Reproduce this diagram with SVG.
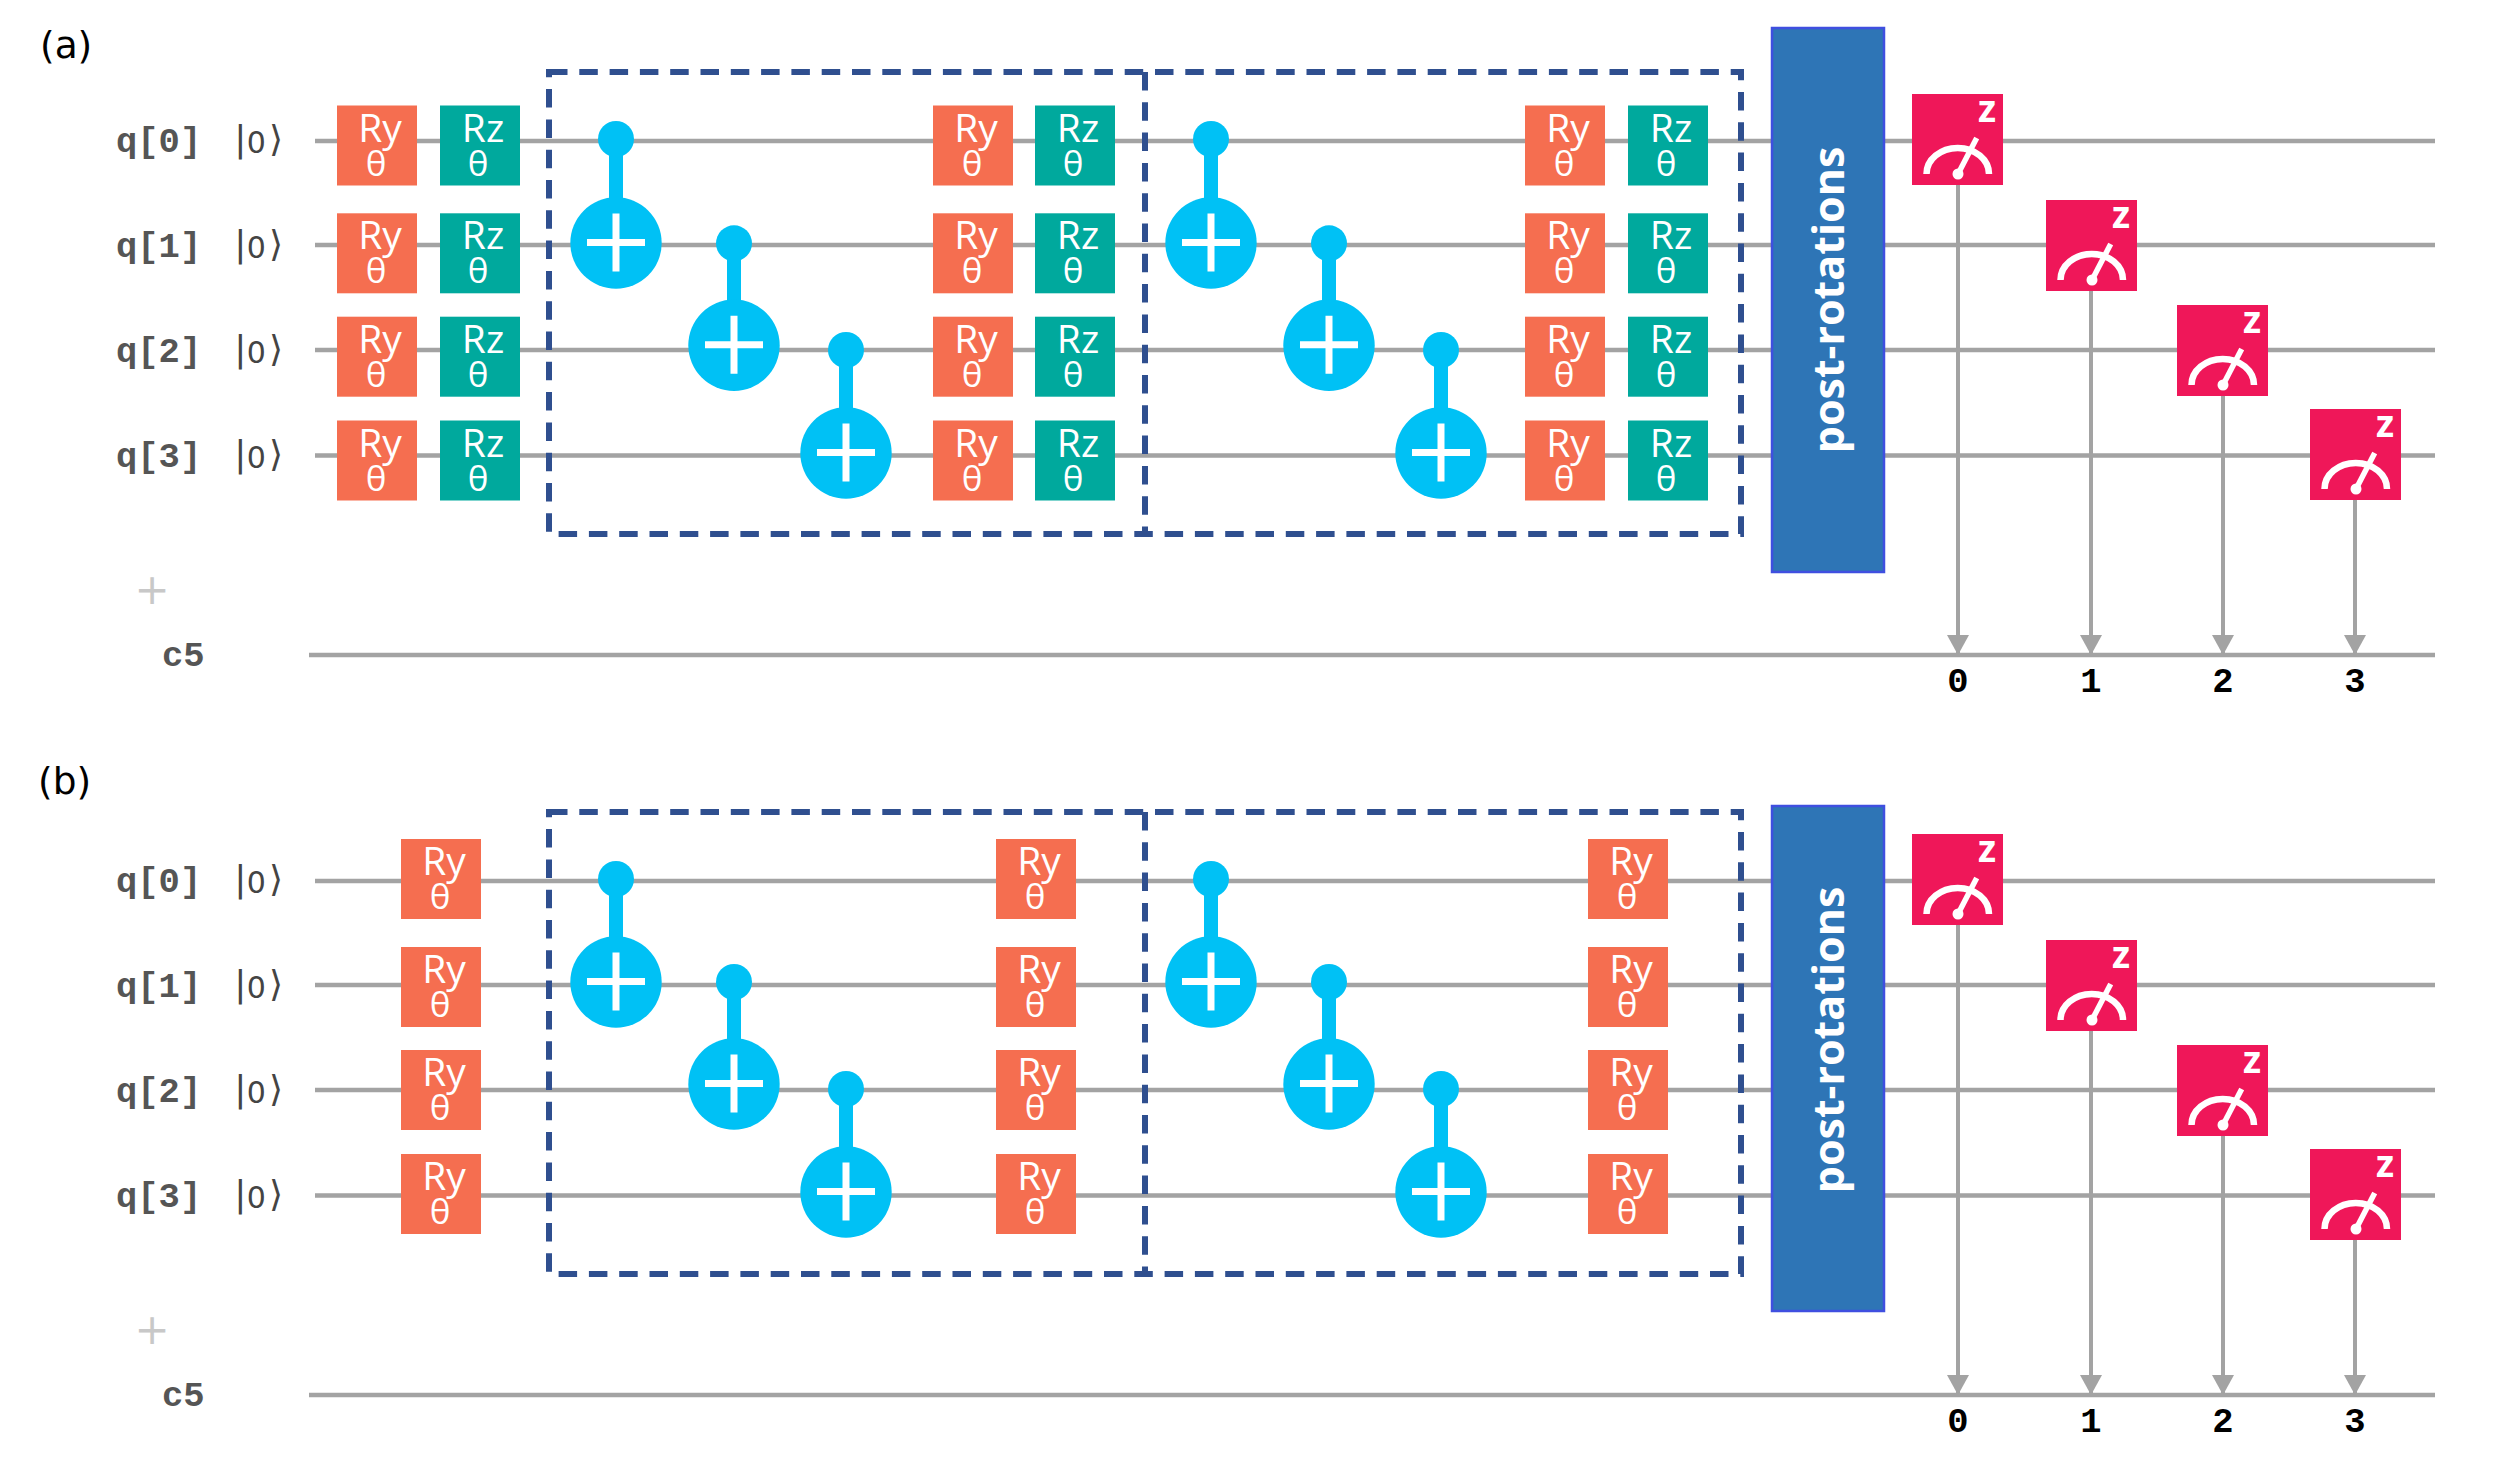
<svg xmlns="http://www.w3.org/2000/svg" width="2506" height="1466" viewBox="0 0 2506 1466">
<style>
.w{stroke:#a3a3a3;stroke-width:4.5;fill:none}
.m{stroke:#a3a3a3;stroke-width:4;fill:none;marker-end:url(#ah)}
.d{fill:none;stroke:#2f4f8f;stroke-width:6;stroke-dasharray:18.5 11.8}
.ry{fill:#f56e50}.rz{fill:#00a99d}.me{fill:#ef1759}
.gt{font-family:"Open Sans",sans-serif;font-weight:500;font-size:39px;fill:#fff;text-anchor:middle}
.th{font-family:"Open Sans",sans-serif;font-weight:500;font-size:35px;fill:#fff;text-anchor:middle}
.c{fill:#00c1f5}.cs{stroke:#00c1f5;stroke-width:14;fill:none}
.p{stroke:#fff;stroke-width:7;fill:none}
.ic{stroke:#fff;stroke-width:6.5;fill:none}.nd{stroke:#fff;stroke-width:5.5;fill:none}
.z{font-family:"Open Sans",sans-serif;font-weight:700;font-size:37px;fill:#fff;text-anchor:middle}
.q{font-family:"Liberation Mono",monospace;font-weight:700;font-size:35.5px;fill:#555}
.k{font-family:"DejaVu Sans",sans-serif;font-size:30px;fill:#444}
.ks{font-size:36px}
.n{font-family:"Liberation Mono",monospace;font-weight:700;font-size:35.5px;fill:#000;text-anchor:middle}
.pl{font-family:"DejaVu Sans",sans-serif;font-size:42px;fill:#c8c8c8;text-anchor:middle}
.t{font-family:"DejaVu Sans",sans-serif;font-size:37.5px;fill:#000}
.pr{fill:#2e75b6;stroke:#3f4fe0;stroke-width:2.5}
.prt{font-family:"Open Sans",sans-serif;font-weight:700;font-size:43px;fill:#fff;text-anchor:middle}
</style>
<defs>
<marker id="ah" markerUnits="userSpaceOnUse" markerWidth="20" markerHeight="22" refX="20" refY="11" orient="auto"><path d="M0 0L20 11L0 22Z" fill="#a3a3a3"/></marker>
<g id="ic"><path class="ic" d="M14.5 80A31.25 26 0 0 1 77 80"/><path class="nd" d="M46 80L64.7 44"/><circle cx="46" cy="80" r="5.5" fill="#fff"/></g>
<g id="pl"><path class="p" d="M-29 0H29M0 -29V29"/></g>
</defs>
<rect width="2506" height="1466" fill="#fff"/>
<g id="connectors">
<path class="w" d="M315 141H2435M315 245H2435M315 350H2435M315 455.5H2435M309 655H2435"/>
<path class="m" d="M1958 185V655"/><path class="m" d="M2091 291V655"/><path class="m" d="M2223 396V655"/><path class="m" d="M2355 500V655"/>
<path class="w" d="M315 881H2435M315 985H2435M315 1090H2435M315 1195.5H2435M309 1395H2435"/>
<path class="m" d="M1958 925V1395"/><path class="m" d="M2091 1031V1395"/><path class="m" d="M2223 1136V1395"/><path class="m" d="M2355 1240V1395"/>
</g>
<g id="frames">
<rect class="d" x="549" y="72" width="1192" height="462"/><path class="d" d="M1145 72V534"/>
<rect class="d" x="549" y="812" width="1192" height="462"/><path class="d" d="M1145 812V1274"/>
</g>
<g id="labels-a">
<text class="t" x="40" y="58">(a)</text>
<text class="q" x="116" y="152">q[0]</text><text class="q" x="116" y="257">q[1]</text><text class="q" x="116" y="362">q[2]</text><text class="q" x="116" y="467">q[3]</text>
<text class="k" y="153"><tspan class="ks" x="234.3" y="151">|</tspan><tspan x="246.8" y="153">0</tspan><tspan class="ks" x="269" y="151">⟩</tspan></text>
<text class="k" y="258"><tspan class="ks" x="234.3" y="256">|</tspan><tspan x="246.8" y="258">0</tspan><tspan class="ks" x="269" y="256">⟩</tspan></text>
<text class="k" y="363"><tspan class="ks" x="234.3" y="361">|</tspan><tspan x="246.8" y="363">0</tspan><tspan class="ks" x="269" y="361">⟩</tspan></text>
<text class="k" y="468"><tspan class="ks" x="234.3" y="466">|</tspan><tspan x="246.8" y="468">0</tspan><tspan class="ks" x="269" y="466">⟩</tspan></text>
<text class="pl" x="152" y="604">+</text>
<text class="q" x="162" y="666">c5</text>
<text class="n" x="1958" y="692">0</text><text class="n" x="2091" y="692">1</text><text class="n" x="2223" y="692">2</text><text class="n" x="2355" y="692">3</text>
</g>
<g id="labels-b">
<text class="t" x="38" y="794">(b)</text>
<text class="q" x="116" y="892">q[0]</text><text class="q" x="116" y="997">q[1]</text><text class="q" x="116" y="1102">q[2]</text><text class="q" x="116" y="1207">q[3]</text>
<text class="k" y="893"><tspan class="ks" x="234.3" y="891">|</tspan><tspan x="246.8" y="893">0</tspan><tspan class="ks" x="269" y="891">⟩</tspan></text>
<text class="k" y="998"><tspan class="ks" x="234.3" y="996">|</tspan><tspan x="246.8" y="998">0</tspan><tspan class="ks" x="269" y="996">⟩</tspan></text>
<text class="k" y="1103"><tspan class="ks" x="234.3" y="1101">|</tspan><tspan x="246.8" y="1103">0</tspan><tspan class="ks" x="269" y="1101">⟩</tspan></text>
<text class="k" y="1208"><tspan class="ks" x="234.3" y="1206">|</tspan><tspan x="246.8" y="1208">0</tspan><tspan class="ks" x="269" y="1206">⟩</tspan></text>
<text class="pl" x="152" y="1344">+</text>
<text class="q" x="162" y="1406">c5</text>
<text class="n" x="1958" y="1432">0</text><text class="n" x="2091" y="1432">1</text><text class="n" x="2223" y="1432">2</text><text class="n" x="2355" y="1432">3</text>
</g>
<g id="a-ry-1-0" transform="translate(337 105.5)"><rect class="ry" width="80" height="80"/><text class="gt" x="43" y="36">Ry</text><text class="th" x="39" y="70">θ</text></g>
<g id="a-ry-1-1" transform="translate(337 213.3)"><rect class="ry" width="80" height="80"/><text class="gt" x="43" y="36">Ry</text><text class="th" x="39" y="70">θ</text></g>
<g id="a-ry-1-2" transform="translate(337 316.7)"><rect class="ry" width="80" height="80"/><text class="gt" x="43" y="36">Ry</text><text class="th" x="39" y="70">θ</text></g>
<g id="a-ry-1-3" transform="translate(337 420.5)"><rect class="ry" width="80" height="80"/><text class="gt" x="43" y="36">Ry</text><text class="th" x="39" y="70">θ</text></g>
<g id="a-rz-1-0" transform="translate(440 105.5)"><rect class="rz" width="80" height="80"/><text class="gt" x="43" y="36">Rz</text><text class="th" x="38" y="70">θ</text></g>
<g id="a-rz-1-1" transform="translate(440 213.3)"><rect class="rz" width="80" height="80"/><text class="gt" x="43" y="36">Rz</text><text class="th" x="38" y="70">θ</text></g>
<g id="a-rz-1-2" transform="translate(440 316.7)"><rect class="rz" width="80" height="80"/><text class="gt" x="43" y="36">Rz</text><text class="th" x="38" y="70">θ</text></g>
<g id="a-rz-1-3" transform="translate(440 420.5)"><rect class="rz" width="80" height="80"/><text class="gt" x="43" y="36">Rz</text><text class="th" x="38" y="70">θ</text></g>
<g id="a-ry-2-0" transform="translate(933 105.5)"><rect class="ry" width="80" height="80"/><text class="gt" x="43" y="36">Ry</text><text class="th" x="39" y="70">θ</text></g>
<g id="a-ry-2-1" transform="translate(933 213.3)"><rect class="ry" width="80" height="80"/><text class="gt" x="43" y="36">Ry</text><text class="th" x="39" y="70">θ</text></g>
<g id="a-ry-2-2" transform="translate(933 316.7)"><rect class="ry" width="80" height="80"/><text class="gt" x="43" y="36">Ry</text><text class="th" x="39" y="70">θ</text></g>
<g id="a-ry-2-3" transform="translate(933 420.5)"><rect class="ry" width="80" height="80"/><text class="gt" x="43" y="36">Ry</text><text class="th" x="39" y="70">θ</text></g>
<g id="a-rz-2-0" transform="translate(1035 105.5)"><rect class="rz" width="80" height="80"/><text class="gt" x="43" y="36">Rz</text><text class="th" x="38" y="70">θ</text></g>
<g id="a-rz-2-1" transform="translate(1035 213.3)"><rect class="rz" width="80" height="80"/><text class="gt" x="43" y="36">Rz</text><text class="th" x="38" y="70">θ</text></g>
<g id="a-rz-2-2" transform="translate(1035 316.7)"><rect class="rz" width="80" height="80"/><text class="gt" x="43" y="36">Rz</text><text class="th" x="38" y="70">θ</text></g>
<g id="a-rz-2-3" transform="translate(1035 420.5)"><rect class="rz" width="80" height="80"/><text class="gt" x="43" y="36">Rz</text><text class="th" x="38" y="70">θ</text></g>
<g id="a-ry-3-0" transform="translate(1525 105.5)"><rect class="ry" width="80" height="80"/><text class="gt" x="43" y="36">Ry</text><text class="th" x="39" y="70">θ</text></g>
<g id="a-ry-3-1" transform="translate(1525 213.3)"><rect class="ry" width="80" height="80"/><text class="gt" x="43" y="36">Ry</text><text class="th" x="39" y="70">θ</text></g>
<g id="a-ry-3-2" transform="translate(1525 316.7)"><rect class="ry" width="80" height="80"/><text class="gt" x="43" y="36">Ry</text><text class="th" x="39" y="70">θ</text></g>
<g id="a-ry-3-3" transform="translate(1525 420.5)"><rect class="ry" width="80" height="80"/><text class="gt" x="43" y="36">Ry</text><text class="th" x="39" y="70">θ</text></g>
<g id="a-rz-3-0" transform="translate(1628 105.5)"><rect class="rz" width="80" height="80"/><text class="gt" x="43" y="36">Rz</text><text class="th" x="38" y="70">θ</text></g>
<g id="a-rz-3-1" transform="translate(1628 213.3)"><rect class="rz" width="80" height="80"/><text class="gt" x="43" y="36">Rz</text><text class="th" x="38" y="70">θ</text></g>
<g id="a-rz-3-2" transform="translate(1628 316.7)"><rect class="rz" width="80" height="80"/><text class="gt" x="43" y="36">Rz</text><text class="th" x="38" y="70">θ</text></g>
<g id="a-rz-3-3" transform="translate(1628 420.5)"><rect class="rz" width="80" height="80"/><text class="gt" x="43" y="36">Rz</text><text class="th" x="38" y="70">θ</text></g>
<g id="b-ry-1-0" transform="translate(401 839)"><rect class="ry" width="80" height="80"/><text class="gt" x="43" y="36">Ry</text><text class="th" x="39" y="70">θ</text></g>
<g id="b-ry-1-1" transform="translate(401 947)"><rect class="ry" width="80" height="80"/><text class="gt" x="43" y="36">Ry</text><text class="th" x="39" y="70">θ</text></g>
<g id="b-ry-1-2" transform="translate(401 1050)"><rect class="ry" width="80" height="80"/><text class="gt" x="43" y="36">Ry</text><text class="th" x="39" y="70">θ</text></g>
<g id="b-ry-1-3" transform="translate(401 1154)"><rect class="ry" width="80" height="80"/><text class="gt" x="43" y="36">Ry</text><text class="th" x="39" y="70">θ</text></g>
<g id="b-ry-2-0" transform="translate(996 839)"><rect class="ry" width="80" height="80"/><text class="gt" x="43" y="36">Ry</text><text class="th" x="39" y="70">θ</text></g>
<g id="b-ry-2-1" transform="translate(996 947)"><rect class="ry" width="80" height="80"/><text class="gt" x="43" y="36">Ry</text><text class="th" x="39" y="70">θ</text></g>
<g id="b-ry-2-2" transform="translate(996 1050)"><rect class="ry" width="80" height="80"/><text class="gt" x="43" y="36">Ry</text><text class="th" x="39" y="70">θ</text></g>
<g id="b-ry-2-3" transform="translate(996 1154)"><rect class="ry" width="80" height="80"/><text class="gt" x="43" y="36">Ry</text><text class="th" x="39" y="70">θ</text></g>
<g id="b-ry-3-0" transform="translate(1588 839)"><rect class="ry" width="80" height="80"/><text class="gt" x="43" y="36">Ry</text><text class="th" x="39" y="70">θ</text></g>
<g id="b-ry-3-1" transform="translate(1588 947)"><rect class="ry" width="80" height="80"/><text class="gt" x="43" y="36">Ry</text><text class="th" x="39" y="70">θ</text></g>
<g id="b-ry-3-2" transform="translate(1588 1050)"><rect class="ry" width="80" height="80"/><text class="gt" x="43" y="36">Ry</text><text class="th" x="39" y="70">θ</text></g>
<g id="b-ry-3-3" transform="translate(1588 1154)"><rect class="ry" width="80" height="80"/><text class="gt" x="43" y="36">Ry</text><text class="th" x="39" y="70">θ</text></g>
<g id="a-cx-1" transform="translate(616 139)"><path class="cs" d="M0 0V104"/><circle class="c" r="18"/><circle class="c" cy="104" r="45.7"/><use href="#pl" y="103.5"/></g>
<g id="a-cx-2" transform="translate(734 243.3)"><path class="cs" d="M0 0V102"/><circle class="c" r="18"/><circle class="c" cy="102" r="45.7"/><use href="#pl" y="101.5"/></g>
<g id="a-cx-3" transform="translate(846 350)"><path class="cs" d="M0 0V103"/><circle class="c" r="18"/><circle class="c" cy="103" r="45.7"/><use href="#pl" y="102.5"/></g>
<g id="a-cx-4" transform="translate(1211 139)"><path class="cs" d="M0 0V104"/><circle class="c" r="18"/><circle class="c" cy="104" r="45.7"/><use href="#pl" y="103.5"/></g>
<g id="a-cx-5" transform="translate(1329 243.3)"><path class="cs" d="M0 0V102"/><circle class="c" r="18"/><circle class="c" cy="102" r="45.7"/><use href="#pl" y="101.5"/></g>
<g id="a-cx-6" transform="translate(1441 350)"><path class="cs" d="M0 0V103"/><circle class="c" r="18"/><circle class="c" cy="103" r="45.7"/><use href="#pl" y="102.5"/></g>
<g id="b-cx-1" transform="translate(616 879)"><path class="cs" d="M0 0V103"/><circle class="c" r="18"/><circle class="c" cy="103" r="45.7"/><use href="#pl" y="102.5"/></g>
<g id="b-cx-2" transform="translate(734 982)"><path class="cs" d="M0 0V102"/><circle class="c" r="18"/><circle class="c" cy="102" r="45.7"/><use href="#pl" y="101.5"/></g>
<g id="b-cx-3" transform="translate(846 1089)"><path class="cs" d="M0 0V103"/><circle class="c" r="18"/><circle class="c" cy="103" r="45.7"/><use href="#pl" y="102.5"/></g>
<g id="b-cx-4" transform="translate(1211 879)"><path class="cs" d="M0 0V103"/><circle class="c" r="18"/><circle class="c" cy="103" r="45.7"/><use href="#pl" y="102.5"/></g>
<g id="b-cx-5" transform="translate(1329 982)"><path class="cs" d="M0 0V102"/><circle class="c" r="18"/><circle class="c" cy="102" r="45.7"/><use href="#pl" y="101.5"/></g>
<g id="b-cx-6" transform="translate(1441 1089)"><path class="cs" d="M0 0V103"/><circle class="c" r="18"/><circle class="c" cy="103" r="45.7"/><use href="#pl" y="102.5"/></g>
<g id="a-post"><rect class="pr" x="1772" y="28" width="112" height="544"/><text class="prt" transform="translate(1844 300) rotate(-90)">post-rotations</text></g>
<g id="b-post"><rect class="pr" x="1772" y="806" width="112" height="505"/><text class="prt" transform="translate(1844 1040) rotate(-90)">post-rotations</text></g>
<g id="a-m0" transform="translate(1912 94)"><rect class="me" width="91" height="91"/><use href="#ic"/><text class="z" x="75" y="28">z</text></g>
<g id="a-m1" transform="translate(2046 200)"><rect class="me" width="91" height="91"/><use href="#ic"/><text class="z" x="75" y="28">z</text></g>
<g id="a-m2" transform="translate(2177 305)"><rect class="me" width="91" height="91"/><use href="#ic"/><text class="z" x="75" y="28">z</text></g>
<g id="a-m3" transform="translate(2310 409)"><rect class="me" width="91" height="91"/><use href="#ic"/><text class="z" x="75" y="28">z</text></g>
<g id="b-m0" transform="translate(1912 834)"><rect class="me" width="91" height="91"/><use href="#ic"/><text class="z" x="75" y="28">z</text></g>
<g id="b-m1" transform="translate(2046 940)"><rect class="me" width="91" height="91"/><use href="#ic"/><text class="z" x="75" y="28">z</text></g>
<g id="b-m2" transform="translate(2177 1045)"><rect class="me" width="91" height="91"/><use href="#ic"/><text class="z" x="75" y="28">z</text></g>
<g id="b-m3" transform="translate(2310 1149)"><rect class="me" width="91" height="91"/><use href="#ic"/><text class="z" x="75" y="28">z</text></g>
</svg>
